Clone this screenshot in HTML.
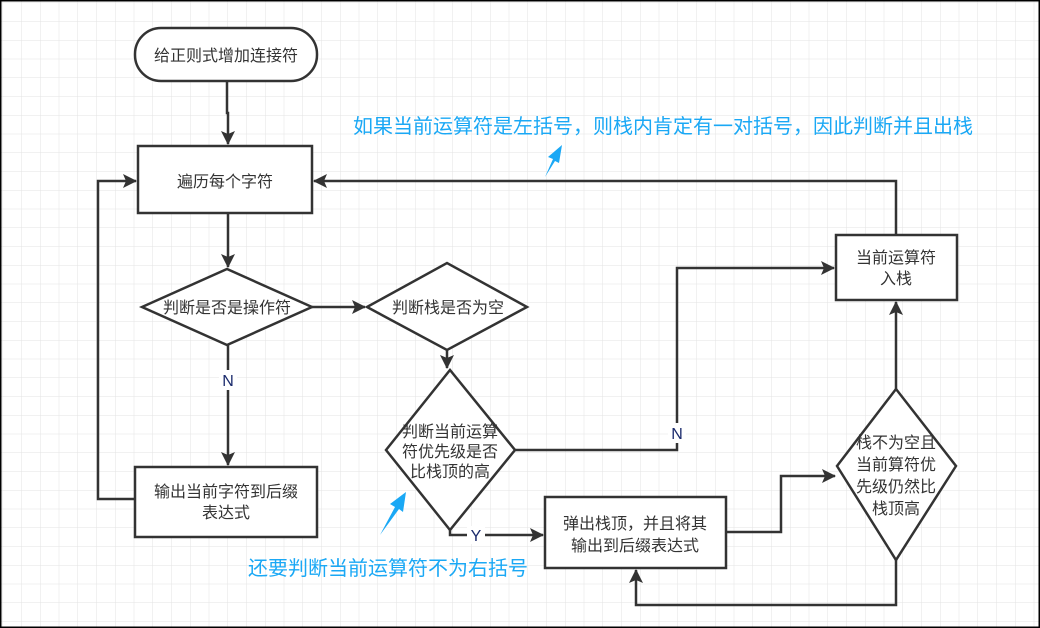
<!DOCTYPE html>
<html><head><meta charset="utf-8"><style>
html,body{margin:0;padding:0;background:#fff}
svg{display:block}
text{font-family:"Liberation Sans","Noto Sans CJK SC",sans-serif}
</style></head><body>
<svg width="1040" height="628" viewBox="0 0 1040 628" xmlns="http://www.w3.org/2000/svg">
<defs>
<pattern id="g" x="3" y="3" width="18.75" height="18.75" patternUnits="userSpaceOnUse">
<path d="M18.75 0V18.75H0" fill="none" stroke="#e3e3e3" stroke-width="1"/>
</pattern>
<marker id="a" markerWidth="14" markerHeight="14" refX="13" refY="7" orient="auto" markerUnits="userSpaceOnUse">
<path d="M0 0L14 7L0 14L3 7Z" fill="#333"/>
</marker>
</defs>
<rect width="1040" height="628" fill="#fff"/>
<rect width="1040" height="628" fill="url(#g)"/>
<rect x="0.5" y="0.5" width="1039" height="627" fill="none" stroke="#000" stroke-width="2"/>
<g fill="none" stroke="#333" stroke-width="2.5">
<rect x="135" y="28" width="182" height="53" rx="26" fill="#fff"/>
<rect x="138" y="146" width="174" height="67" fill="#fff"/>
<polygon points="142,307 227,269 312,307 227,345" fill="#fff"/>
<polygon points="367,307 447,263 527,307 447,350" fill="#fff"/>
<polygon points="386,450 450,370 515,450 450,530" fill="#fff"/>
<rect x="135" y="467" width="182" height="70" fill="#fff"/>
<rect x="836" y="235" width="121" height="65" fill="#fff"/>
<polygon points="837,466 896,389 956,466 896,560" fill="#fff"/>
<rect x="545" y="497" width="181" height="71" fill="#fff"/>
</g>
<g fill="none" stroke="#333" stroke-width="2.5">
<path d="M227 81V113H228V144" marker-end="url(#a)"/>
<path d="M228 213V267" marker-end="url(#a)"/>
<path d="M228 345V465" marker-end="url(#a)"/>
<path d="M135 499H98V181H136" marker-end="url(#a)"/>
<path d="M312 307H365" marker-end="url(#a)"/>
<path d="M447 350V368" marker-end="url(#a)"/>
<path d="M515 450H677V268H834" marker-end="url(#a)"/>
<path d="M896 235V181H314" marker-end="url(#a)"/>
<path d="M450 530V535H543" marker-end="url(#a)"/>
<path d="M726 532H781V476H835" marker-end="url(#a)"/>
<path d="M896 389V302" marker-end="url(#a)"/>
<path d="M896 560V605H636V570" marker-end="url(#a)"/>
</g>
<g fill="#333" font-size="16" text-anchor="middle">
<text x="226" y="61">给正则式增加连接符</text>
<text x="225" y="187">遍历每个字符</text>
<text x="227" y="313">判断是否是操作符</text>
<text x="448" y="313">判断栈是否为空</text>
<text x="450" y="437">判断当前运算</text>
<text x="450" y="457">符优先级是否</text>
<text x="450" y="477">比栈顶的高</text>
<text x="226" y="497">输出当前字符到后缀</text>
<text x="226" y="518">表达式</text>
<text x="896" y="263">当前运算符</text>
<text x="896" y="284">入栈</text>
<text x="896" y="448">栈不为空且</text>
<text x="896" y="470">当前算符优</text>
<text x="896" y="492">先级仍然比</text>
<text x="896" y="514">栈顶高</text>
<text x="635" y="529">弹出栈顶，并且将其</text>
<text x="635" y="551">输出到后缀表达式</text>
</g>
<g font-size="16" text-anchor="middle" fill="#1a2a6c">
<rect x="219" y="370" width="18" height="20" fill="#fff"/>
<text x="228" y="386">N</text>
<rect x="668" y="423" width="18" height="20" fill="#fff"/>
<text x="677" y="439">N</text>
<rect x="467" y="526" width="18" height="18" fill="#fff"/>
<text x="476" y="541">Y</text>
</g>
<g fill="#1aa8f5" font-size="20">
<text x="353" y="133">如果当前运算符是左括号，则栈内肯定有一对括号，因此判断并且出栈</text>
<text x="248" y="575">还要判断当前运算符不为右括号</text>
</g>
<path d="M545 177L553 159L548 157L562 145L559 163L555 161Z" fill="#1aa8f5"/>
<path d="M380 535L395 507L390 504L406 492L403 512L399 509Z" fill="#1aa8f5"/>
</svg>
</body></html>
